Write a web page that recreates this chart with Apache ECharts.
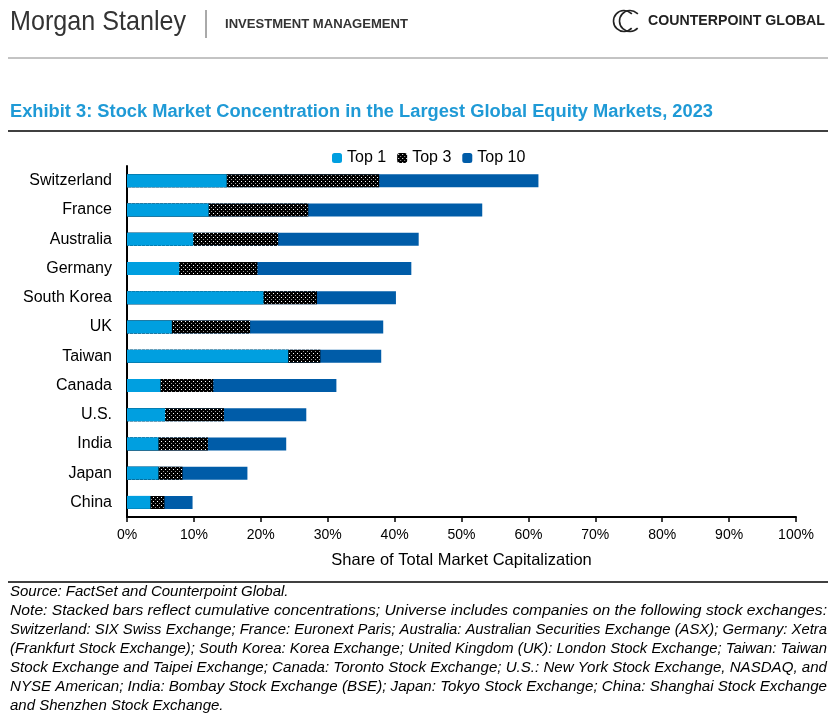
<!DOCTYPE html>
<html>
<head>
<meta charset="utf-8">
<script src="https://cdn.jsdelivr.net/npm/echarts@6/dist/echarts.min.js"></script>
<style>
  html, body { margin: 0; padding: 0; background: #fff; }
  #chart { width: 837px; height: 718px; }
</style>
</head>
<body>
<div id="chart"></div>
<script>
// countries, top to bottom
var countries = ["Switzerland", "France", "Australia", "Germany", "South Korea", "UK",
  "Taiwan", "Canada", "U.S.", "India", "Japan", "China"];
// cumulative share of total market cap (%)
var top1 = [14.9, 12.2, 9.9, 7.8, 20.4, 6.7, 24.1, 5.0, 5.7, 4.7, 4.7, 3.5];
var top3 = [37.7, 27.1, 22.6, 19.5, 28.4, 18.4, 28.9, 12.9, 14.5, 12.1, 8.3, 5.6];
var top10 = [61.5, 53.1, 43.6, 42.5, 40.2, 38.3, 38.0, 31.3, 26.8, 23.8, 18.0, 9.8];
var xTicks = [0, 10, 20, 30, 40, 50, 60, 70, 80, 90, 100];

var footLines = [
  "Source: FactSet and Counterpoint Global.",
  "Note: Stacked bars reflect cumulative concentrations; Universe includes companies on the following stock exchanges:",
  "Switzerland: SIX Swiss Exchange; France: Euronext Paris; Australia: Australian Securities Exchange (ASX); Germany: Xetra",
  "(Frankfurt Stock Exchange); South Korea: Korea Exchange; United Kingdom (UK): London Stock Exchange; Taiwan: Taiwan",
  "Stock Exchange and Taipei Exchange; Canada: Toronto Stock Exchange; U.S.: New York Stock Exchange, NASDAQ, and",
  "NYSE American; India: Bombay Stock Exchange (BSE); Japan: Tokyo Stock Exchange; China: Shanghai Stock Exchange",
  "and Shenzhen Stock Exchange."
];
var justified = [false, true, true, true, true, true, false];

// dotted black fill for the Top 3 segment
var pat = document.createElement("canvas");
pat.width = 4; pat.height = 4;
var pc = pat.getContext("2d");
pc.fillStyle = "#000";
pc.fillRect(0, 0, 4, 4);
pc.fillStyle = "#ffffff";
pc.fillRect(1, 1, 1, 1);
pc.fillStyle = "#9a9a9a";
pc.fillRect(3, 3, 1, 1);

var FONT = "'Liberation Sans', Arial, sans-serif";
var measure = document.createElement("canvas").getContext("2d");
function textW(t, font) {
  measure.font = font;
  return measure.measureText(t).width;
}
// text squeezed / stretched to a given width
function fitText(t, x, y, font, width, fill) {
  var s = width / textW(t, font);
  return { type: "text", x: x, y: y, scaleX: s, scaleY: 1,
    style: { text: t, font: font, fill: fill, align: "left", verticalAlign: "middle" } };
}

var chart = echarts.init(document.getElementById("chart"));

var msFont = "28px " + FONT;
var cpFont = "bold 15px " + FONT;
var imFont = "bold 13px " + FONT;
var graphics = [
  fitText("Morgan Stanley", 10, 22, msFont, 176, "#333"),
  { type: "line", shape: { x1: 206, y1: 10, x2: 206, y2: 38 }, style: { stroke: "#555", lineWidth: 1 } },
  fitText("INVESTMENT MANAGEMENT", 225, 24, imFont, 183, "#333"),
  { type: "arc", shape: { cx: 624, cy: 21, r: 10.5, startAngle: 0.75, endAngle: 5.55 }, style: { stroke: "#222", lineWidth: 1.6, fill: null } },
  { type: "arc", shape: { cx: 630, cy: 21, r: 10.5, startAngle: 0.75, endAngle: 5.55 }, style: { stroke: "#222", lineWidth: 1.6, fill: null } },
  fitText("COUNTERPOINT GLOBAL", 648, 21, cpFont, 177, "#222"),
  { type: "line", shape: { x1: 8, y1: 58, x2: 828, y2: 58 }, style: { stroke: "#888", lineWidth: 1 } },
  fitText("Exhibit 3: Stock Market Concentration in the Largest Global Equity Markets, 2023", 10, 112,
    "bold 18px " + FONT, 703, "#1f9ad6"),
  { type: "line", shape: { x1: 8, y1: 131, x2: 828, y2: 131 }, style: { stroke: "#000", lineWidth: 1.5 } },
  { type: "line", shape: { x1: 8, y1: 582, x2: 828, y2: 582 }, style: { stroke: "#000", lineWidth: 1.5 } }
];
var footFont = "italic 15px " + FONT;
footLines.forEach(function (t, i) {
  var w = justified[i] ? 817 : textW(t, footFont);
  graphics.push(fitText(t, 10, 592 + i * 19, footFont, w, "#000"));
});

var option = {
  animation: false,
  backgroundColor: "#fff",
  graphic: graphics,
  legend: {
    top: 145,
    left: 327,
    itemWidth: 10,
    itemHeight: 10,
    itemGap: 11,
    textStyle: { fontSize: 16, color: "#000", fontFamily: FONT },
    data: ["Top 1", "Top 3", "Top 10"]
  },
  grid: { left: 127, right: 41, top: 166, bottom: 201 },
  xAxis: {
    type: "value",
    min: 0,
    max: 100,
    interval: 10,
    name: "Share of Total Market Capitalization",
    nameLocation: "middle",
    nameGap: 35,
    nameTextStyle: { fontSize: 16.5, color: "#000", fontFamily: FONT },
    axisLine: { show: true, lineStyle: { color: "#000", width: 2 } },
    axisTick: { show: true, length: 5, lineStyle: { color: "#000", width: 1.5 } },
    axisLabel: {
      fontSize: 14, color: "#000", fontFamily: FONT, margin: 11,
      formatter: function (v) { return xTicks.indexOf(v) >= 0 ? v + "%" : ""; }
    },
    splitLine: { show: false }
  },
  yAxis: {
    type: "category",
    inverse: true,
    data: countries,
    axisLine: { show: true, lineStyle: { color: "#000", width: 2 } },
    axisTick: { show: false },
    axisLabel: { fontSize: 16, color: "#000", fontFamily: FONT, margin: 15 }
  },
  series: [
    { name: "Top 10", type: "bar", data: top10, barWidth: 13, barGap: "-100%", z: 1,
      itemStyle: { color: "#005ca8" } },
    { name: "Top 3", type: "bar", data: top3, barWidth: 13, barGap: "-100%", z: 2,
      itemStyle: { color: { image: pat, repeat: "repeat" } } },
    { name: "Top 1", type: "bar", data: top1, barWidth: 13, barGap: "-100%", z: 3,
      itemStyle: { color: "#009fe0" } }
  ]
};
chart.setOption(option);
</script>
</body>
</html>
